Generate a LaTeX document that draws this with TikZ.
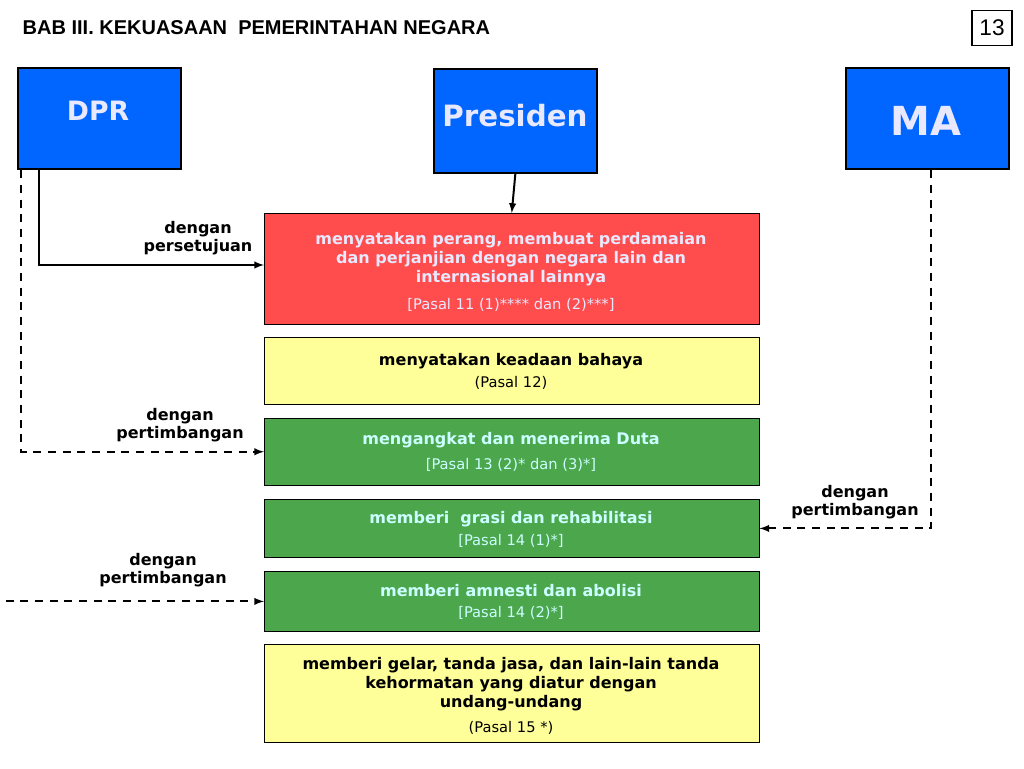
\documentclass[tikz,border=0pt]{standalone}
\usepackage{fontspec}
\setmainfont{DejaVu Sans}
\newfontfamily\titlefont{Liberation Sans}
\usetikzlibrary{positioning}
\definecolor{boxblue}{HTML}{0066FF}
\definecolor{boxred}{HTML}{FF4D4D}
\definecolor{boxyellow}{HTML}{FFFF99}
\definecolor{boxgreen}{HTML}{4CA64C}
\definecolor{paletext}{HTML}{E8E8FF}
\definecolor{greentext}{HTML}{CCFFFF}
\tikzset{
  lembaga/.style={draw=black,line width=1.5pt,fill=boxblue,minimum width=122pt,minimum height=76pt,anchor=north west},
  tugas/.style={draw=black,line width=0.6pt,minimum width=371pt,anchor=north west,align=center,inner sep=0pt},
  catatan/.style={align=center,font=\bfseries\fontsize{12}{14}\selectfont},
  garis/.style={line width=1.5pt,-latex},
  putus/.style={line width=1.5pt,dashed,dash pattern=on 6pt off 5pt,-latex}
}
\begin{document}
\begin{tikzpicture}[x=0.75pt,y=-0.75pt]
 \useasboundingbox (0,0) rectangle (1024,768);
 \node[anchor=west,font=\titlefont\bfseries\fontsize{15}{18}\selectfont] (judul) at (18,28) {BAB III. KEKUASAAN\ \ PEMERINTAHAN NEGARA};
 \node[draw=black,line width=0.8pt,minimum width=30pt,minimum height=26pt,font=\titlefont\fontsize{17}{20}\selectfont] (hal) at (992,28) {13};
 % lembaga negara
 \node[lembaga] (dpr) at (17,67) {};
 \node[text=paletext,font=\bfseries\fontsize{20}{24}\selectfont] at (98,111) {DPR};
 \node[lembaga,minimum height=78pt] (pres) at (433,68) {};
 \node[text=paletext,font=\bfseries\fontsize{22}{26}\selectfont] at (515,116) {Presiden};
 \node[lembaga] (ma) at (845,67) {};
 \node[text=paletext,font=\bfseries\fontsize{30}{34}\selectfont] at (926,121) {MA};
 % kewenangan presiden
 \node[tugas,fill=boxred,minimum height=83pt,text=paletext] (perang) at (264,213) {};
 \node[text=paletext,catatan] at (511,259) {menyatakan perang, membuat perdamaian\\dan perjanjian dengan negara lain dan\\internasional lainnya};
 \node[text=paletext,font=\fontsize{11}{13}\selectfont] at (511,305) {[Pasal 11 (1)**** dan (2)***]};
 \node[tugas,fill=boxyellow,minimum height=50pt] (bahaya) at (264,337) {};
 \node[catatan] at (511,361) {menyatakan keadaan bahaya};
 \node[font=\fontsize{11}{13}\selectfont] at (511,383) {(Pasal 12)};
 \node[tugas,fill=boxgreen,minimum height=50pt] (duta) at (264,418) {};
 \node[catatan,text=greentext] at (511,440) {mengangkat dan menerima Duta};
 \node[text=greentext,font=\fontsize{11}{13}\selectfont] at (511,465) {[Pasal 13 (2)* dan (3)*]};
 \node[tugas,fill=boxgreen,minimum height=43.5pt] (grasi) at (264,499) {};
 \node[catatan,text=greentext] at (511,519) {memberi\ \ grasi dan rehabilitasi};
 \node[text=greentext,font=\fontsize{11}{13}\selectfont] at (511,541) {[Pasal 14 (1)*]};
 \node[tugas,fill=boxgreen,minimum height=45pt] (amnesti) at (264,571) {};
 \node[catatan,text=greentext] at (511,591) {memberi amnesti dan abolisi};
 \node[text=greentext,font=\fontsize{11}{13}\selectfont] at (511,613) {[Pasal 14 (2)*]};
 \node[tugas,fill=boxyellow,minimum height=73.5pt] (gelar) at (264,644) {};
 \node[catatan] at (511,684) {memberi gelar, tanda jasa, dan lain-lain tanda\\kehormatan yang diatur dengan\\undang-undang};
 \node[font=\fontsize{11}{13}\selectfont] at (511,728) {(Pasal 15 *)};
 % hubungan
 \draw[garis] (pres.south) -- (perang.north);
 \draw[garis] ([xshift=-45pt]dpr.south) |- (perang.west |- 0,265);
 \draw[putus] ([xshift=-58.5pt]dpr.south) |- (duta.west);
 \draw[putus] ([xshift=-77pt]dpr.south) |- (amnesti.west);
 \draw[putus] ([xshift=3pt]ma.south) |- (grasi.east);
 % keterangan
 \node[catatan] at (198,238) {dengan\\persetujuan};
 \node[catatan] at (180,425) {dengan\\pertimbangan};
 \node[catatan] at (163,570) {dengan\\pertimbangan};
 \node[catatan] at (855,502) {dengan\\pertimbangan};
\end{tikzpicture}
\end{document}
